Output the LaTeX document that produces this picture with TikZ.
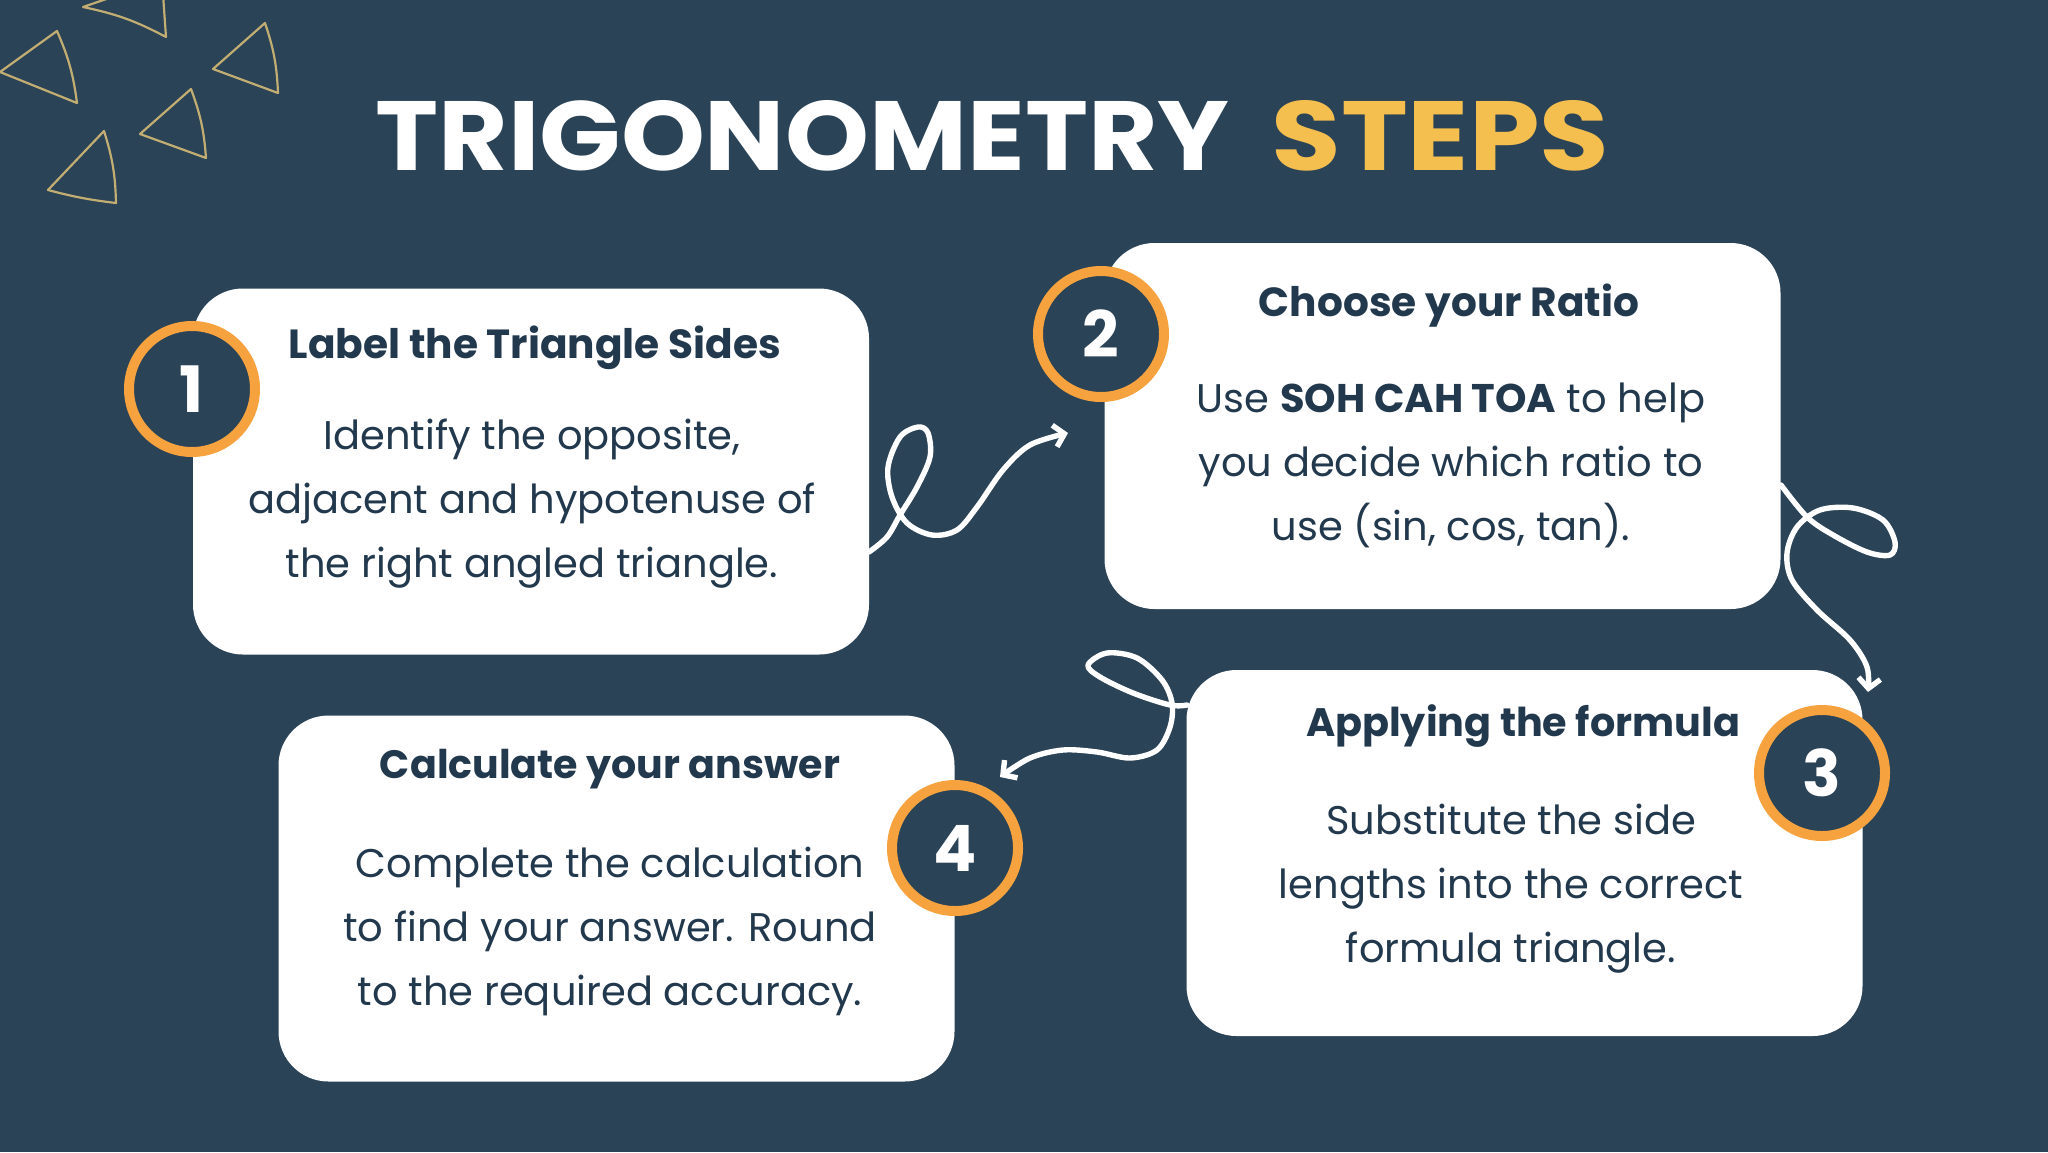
\documentclass[tikz,border=0pt]{standalone}
\usepackage{fontspec}
\setmainfont{Poppins}
\usetikzlibrary{arrows.meta}
\definecolor{bgc}{HTML}{2A4356}
\definecolor{ink}{HTML}{22394D}
\definecolor{ring}{HTML}{F5A23F}
\definecolor{ttly}{HTML}{F5BF4F}
\definecolor{gold}{HTML}{C2AE73}
\tikzset{
 card/.style={fill=white, rounded corners=25pt, minimum width=338pt, minimum height=183pt, inner sep=0pt},
 numc/.style={circle, draw=ring, line width=5pt, fill=bgc, minimum size=63pt, inner sep=0pt, text=white, font=\bfseries\fontsize{32}{32}\selectfont},
 head/.style={text=ink, anchor=base, inner sep=0pt},
 body/.style={text=ink, align=center, font=\fontsize{20}{32}\selectfont, inner sep=0pt},
 conn/.style={draw=white, line width=2.7pt, line cap=round, line join=round, -{Straight Barb[length=5pt,width=11pt,line width=2.7pt]}},
 tri/.style={draw=gold, line width=1.1pt, line join=round}
}
\newcommand{\hd}[2]{\resizebox{#1}{!}{\bfseries #2}}
\begin{document}
\begin{tikzpicture}[x=0.5pt,y=-0.5pt]
\fill[bgc] (0,0) rectangle (2048,1152);
\useasboundingbox (0,0) rectangle (2048,1152);

% decorative triangles
\draw[tri] (83,7) to[bend left=8] (166,37) -- (162,-20) -- cycle;
\draw[tri] (0,72) -- (57,31) to[bend left=8] (77,103) -- cycle;
\draw[tri] (213,69) -- (265,23) to[bend left=8] (278,93) -- cycle;
\draw[tri] (140,134) -- (191,89) to[bend left=8] (206,158) -- cycle;
\draw[tri] (48,190) -- (104,131) to[bend left=8] (116,203) to[bend left=4] cycle;

% title
\node[anchor=base west, inner sep=0pt, text=white] (t1) at (375,170) {\resizebox{427pt}{35pt}{\bfseries TRIGONOMETRY}};
\node[anchor=base west, inner sep=0pt, text=ttly] (t2) at (1271,170) {\resizebox{169pt}{35pt}{\bfseries STEPS}};

% cards
\node[card] (c1) at (531,471.5) {};
\node[card] (c2) at (1442.5,426) {};
\node[card] (c3) at (1524.5,853) {};
\node[card] (c4) at (616.5,898.5) {};

% headings
\node[head] (h1) at (535,358) {\hd{246pt}{Label the Triangle Sides}};
\node[head] (h2) at (1449,316) {\hd{190pt}{Choose your Ratio}};
\node[head] (h3) at (1523,736) {\hd{217pt}{Applying the formula}};
\node[head] (h4) at (610,778) {\hd{230pt}{Calculate your answer}};

% bodies
\node[body] (b1) at (532,504) {Identify the opposite,\\adjacent and hypotenuse of\\the right angled triangle.};
\node[body] (b2) at (1451,465) {Use \textbf{SOH CAH TOA} to help\\you decide which ratio to\\use (sin, cos, tan).};
\node[body] (b3) at (1511,889) {Substitute the side\\lengths into the correct\\formula triangle.};
\node[body] (b4) at (610,931) {Complete the calculation\\to find your answer. Round\\to the required accuracy.};

% connectors
\coordinate (s12) at (869,552);
\coordinate (e12) at (1068,433);
\draw[conn] plot[smooth, tension=0.55] coordinates {(s12) (887,537) (900,515) (917,487) (930,457) (928,433) (918,427) (900,437) (888,467) (892,497) (907,523) (932,535) (957,530) (977,507) (1003,470) (1030,445) (e12)};

\coordinate (s23) at (1781,485);
\coordinate (e23) at (1868,692);
\draw[conn] plot[smooth, tension=0.55] coordinates {(s23) (1807,517) (1833,535) (1867,552) (1890,555) (1895,542) (1883,520) (1853,508) (1820,510) (1797,527) (1787,553) (1792,580) (1817,610) (1850,640) (1867,667) (e23)};

\coordinate (s34) at (1187,705);
\coordinate (e34) at (1000,777);
\draw[conn] plot[smooth, tension=0.55] coordinates {(s34) (1170,705) (1133,693) (1100,677) (1088,665) (1107,653) (1137,658) (1162,680) (1172,703) (1170,727) (1157,750) (1130,758) (1097,752) (1063,750) (1030,758) (e34)};

% number circles
\node[numc] (n1) at (192,389) {1};
\node[numc] (n2) at (1101,334) {2};
\node[numc] (n3) at (1822,773) {3};
\node[numc] (n4) at (955,848) {4};
\end{tikzpicture}
\end{document}
